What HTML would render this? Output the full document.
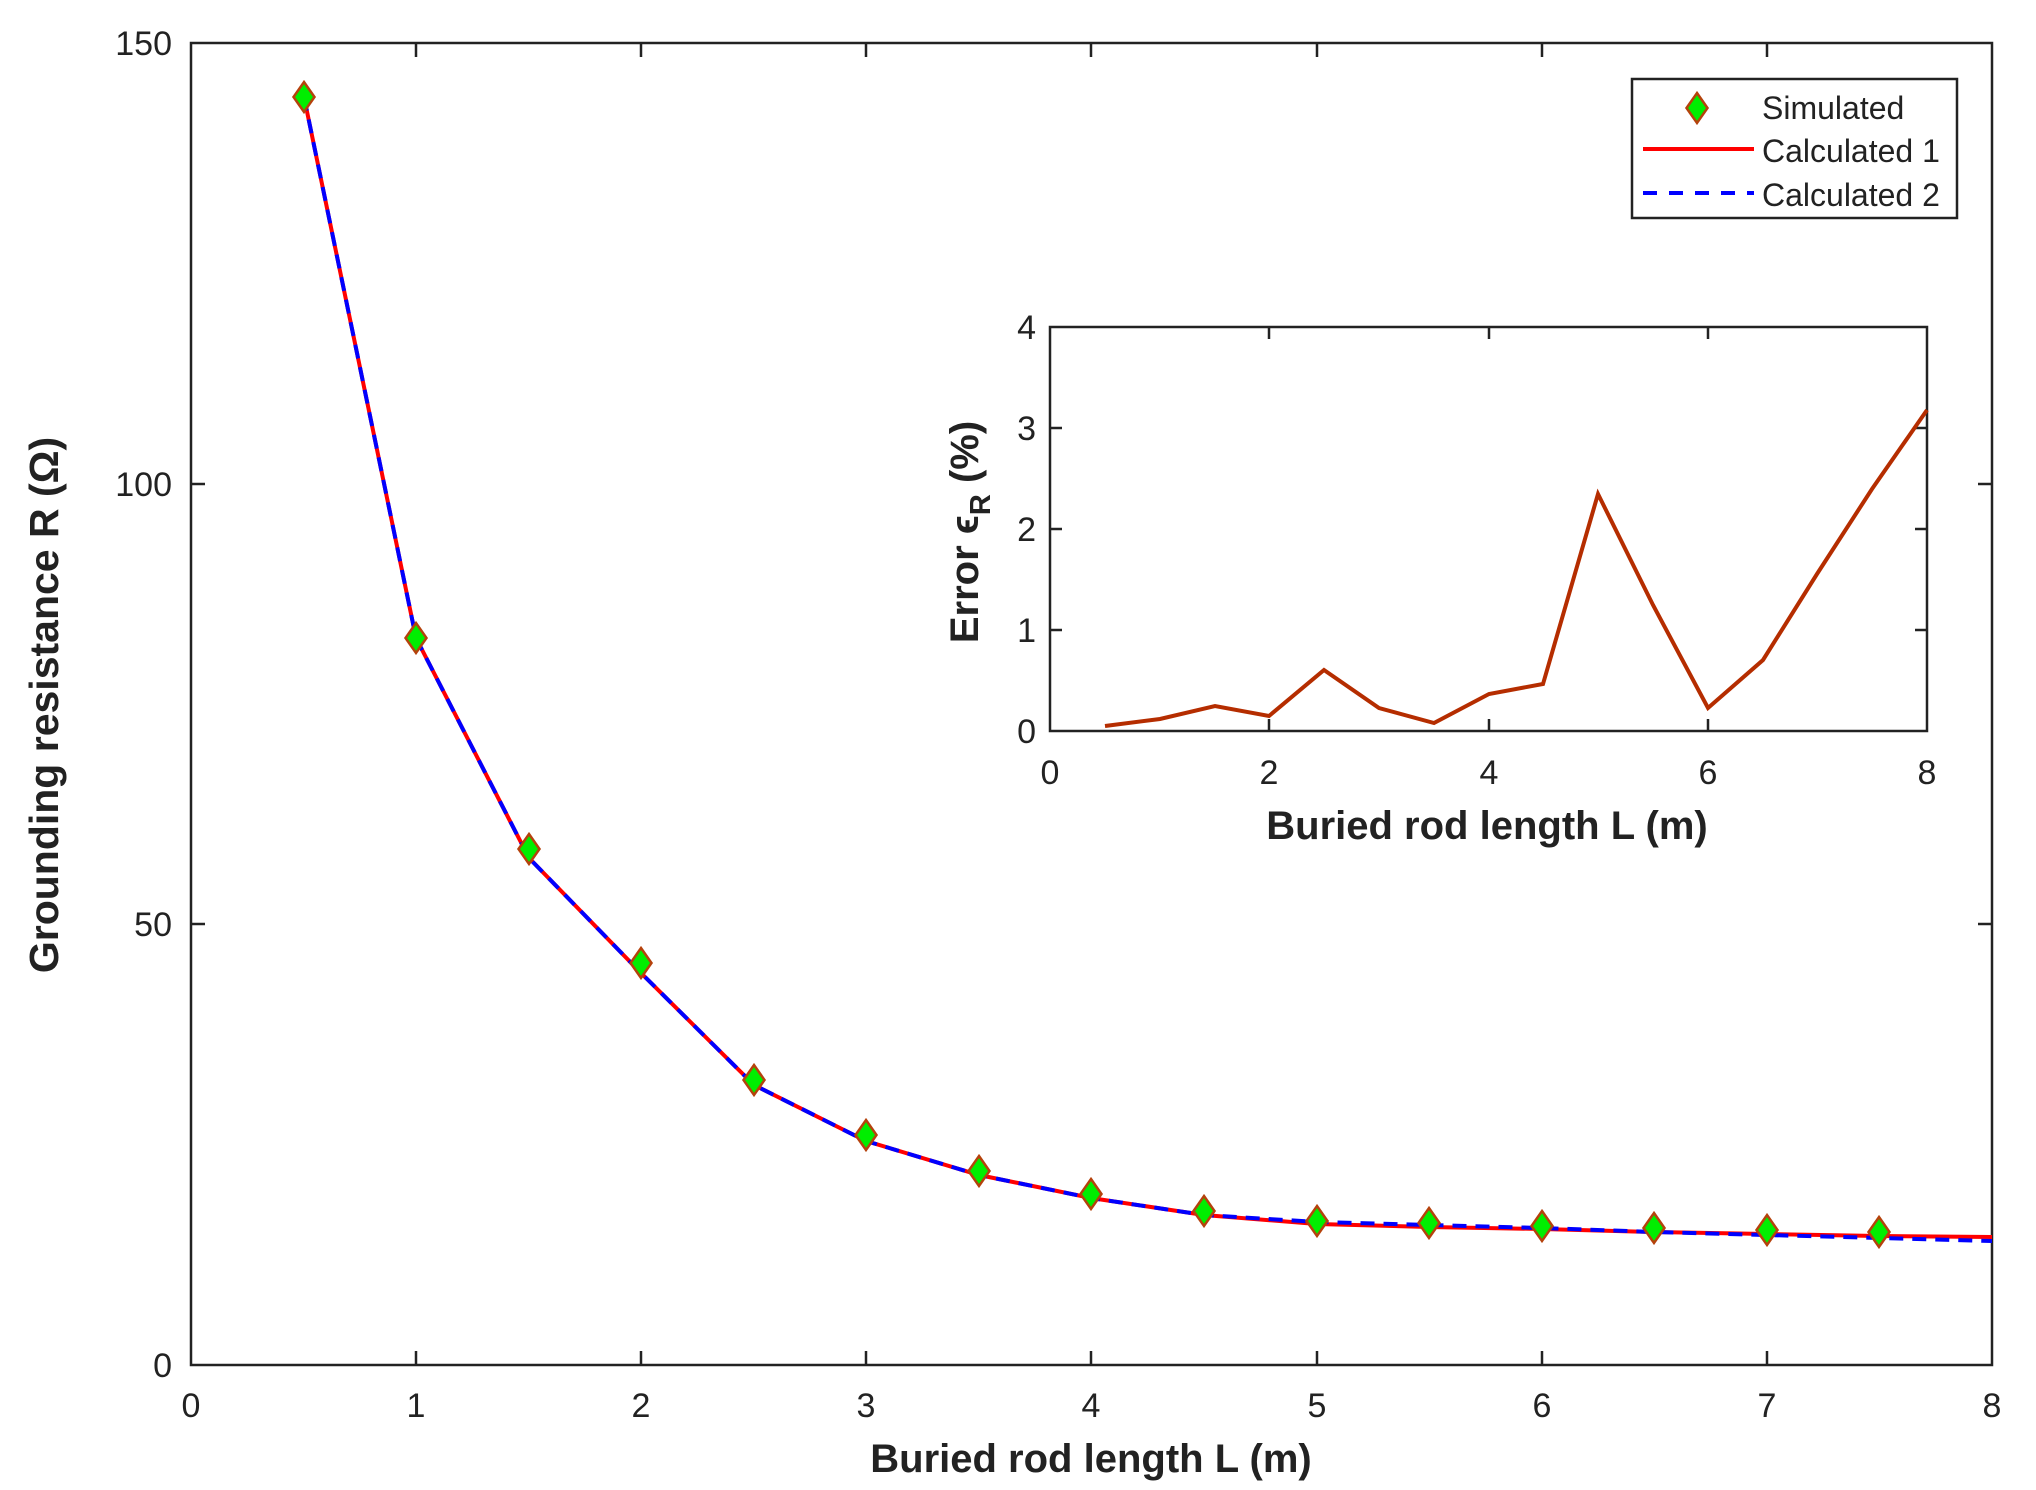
<!DOCTYPE html>
<html><head><meta charset="utf-8"><style>html,body{margin:0;padding:0;background:#fff}svg{display:block}text{font-family:"Liberation Sans",Arial,sans-serif;fill:#222}</style></head>
<body>
<svg width="2036" height="1490" viewBox="0 0 2036 1490" xmlns="http://www.w3.org/2000/svg">
<rect width="2036" height="1490" fill="#fff"/>
<!-- main axes -->
<rect x="191" y="43" width="1801" height="1322" fill="none" stroke="#222" stroke-width="2.5"/>
<g stroke="#222" stroke-width="2.5">
<path d="M416,1365v-14M641,1365v-14M866,1365v-14M1091,1365v-14M1317,1365v-14M1542,1365v-14M1767,1365v-14M416,43v14M641,43v14M866,43v14M1091,43v14M1317,43v14M1542,43v14M1767,43v14M191,924h14M191,484h14M1992,924h-14M1992,484h-14"/>
</g>
<g font-size="34" text-anchor="middle">
<text x="191" y="1417">0</text><text x="416" y="1417">1</text><text x="641" y="1417">2</text><text x="866" y="1417">3</text><text x="1091" y="1417">4</text><text x="1317" y="1417">5</text><text x="1542" y="1417">6</text><text x="1767" y="1417">7</text><text x="1992" y="1417">8</text>
</g>
<g font-size="34" text-anchor="end">
<text x="172" y="1377">0</text><text x="172" y="936">50</text><text x="172" y="496">100</text><text x="172" y="55">150</text>
</g>
<text x="1091" y="1472" font-size="40" font-weight="bold" text-anchor="middle">Buried rod length L  (m)</text>
<text transform="translate(58,705) rotate(-90)" font-size="41" font-weight="bold" text-anchor="middle">Grounding resistance  R  (Ω)</text>
<!-- curves -->
<polyline fill="none" stroke="#ff0000" stroke-width="4" points="304,97 416,638 529,858 641,973 754,1085 866,1141 979,1175 1091,1198 1204,1215 1317,1224 1429,1227 1542,1229 1654,1232 1767,1234 1879,1236 1992,1237"/>
<polyline fill="none" stroke="#0000ff" stroke-width="4" stroke-dasharray="14,9" points="304,97 416,638 529,858 641,973 754,1085 866,1141 979,1175 1091,1198 1204,1215 1317,1222 1429,1225 1542,1228 1654,1232 1767,1235 1879,1238 1992,1241"/>
<g fill="#00ee00" stroke="#b5420c" stroke-width="2.5">
<path d="M304,82l10.5,15l-10.5,15l-10.5,-15z"/><path d="M416,623l10.5,15l-10.5,15l-10.5,-15z"/><path d="M529,834l10.5,15l-10.5,15l-10.5,-15z"/><path d="M641,948l10.5,15l-10.5,15l-10.5,-15z"/><path d="M754,1065l10.5,15l-10.5,15l-10.5,-15z"/><path d="M866,1120l10.5,15l-10.5,15l-10.5,-15z"/><path d="M979,1156l10.5,15l-10.5,15l-10.5,-15z"/><path d="M1091,1179l10.5,15l-10.5,15l-10.5,-15z"/><path d="M1204,1196l10.5,15l-10.5,15l-10.5,-15z"/><path d="M1317,1206l10.5,15l-10.5,15l-10.5,-15z"/><path d="M1429,1208l10.5,15l-10.5,15l-10.5,-15z"/><path d="M1542,1211l10.5,15l-10.5,15l-10.5,-15z"/><path d="M1654,1213l10.5,15l-10.5,15l-10.5,-15z"/><path d="M1767,1215l10.5,15l-10.5,15l-10.5,-15z"/><path d="M1879,1217l10.5,15l-10.5,15l-10.5,-15z"/>
</g>
<!-- legend -->
<rect x="1632" y="79" width="325" height="139" fill="#fff" stroke="#222" stroke-width="2.5"/>
<path d="M1697,93l10.5,15l-10.5,15l-10.5,-15z" fill="#00ee00" stroke="#b5420c" stroke-width="2.5"/>
<line x1="1643" y1="149" x2="1754" y2="149" stroke="#ff0000" stroke-width="4"/>
<line x1="1643" y1="193" x2="1754" y2="193" stroke="#0000ff" stroke-width="4" stroke-dasharray="14,12"/>
<g font-size="32"><text x="1762" y="119">Simulated</text><text x="1762" y="162">Calculated 1</text><text x="1762" y="206">Calculated 2</text></g>
<!-- inset -->
<rect x="1050" y="327" width="877" height="404" fill="#fff" stroke="#222" stroke-width="2.5"/>
<g stroke="#222" stroke-width="2.5">
<path d="M1269,731v-12M1489,731v-12M1708,731v-12M1269,327v12M1489,327v12M1708,327v12M1050,630h12M1050,529h12M1050,428h12M1927,630h-12M1927,529h-12M1927,428h-12"/>
</g>
<g font-size="34" text-anchor="middle">
<text x="1050" y="784">0</text><text x="1269" y="784">2</text><text x="1489" y="784">4</text><text x="1708" y="784">6</text><text x="1927" y="784">8</text>
</g>
<g font-size="34" text-anchor="end">
<text x="1036" y="743">0</text><text x="1036" y="642">1</text><text x="1036" y="541">2</text><text x="1036" y="440">3</text><text x="1036" y="339">4</text>
</g>
<text x="1487" y="839" font-size="40" font-weight="bold" text-anchor="middle">Buried rod length L  (m)</text>
<text transform="translate(978,532) rotate(-90)" font-size="40" font-weight="bold" text-anchor="middle">Error ϵ<tspan font-size="29" dy="12">R</tspan><tspan dy="-12">   (%)</tspan></text>
<polyline fill="none" stroke="#b52d00" stroke-width="4" points="1105,726 1160,719 1215,706 1269,716 1324,670 1379,708 1434,723 1489,694 1543,684 1598,494 1653,605 1708,708 1763,660 1817,574 1872,489 1927,410"/>
</svg>
</body></html>
